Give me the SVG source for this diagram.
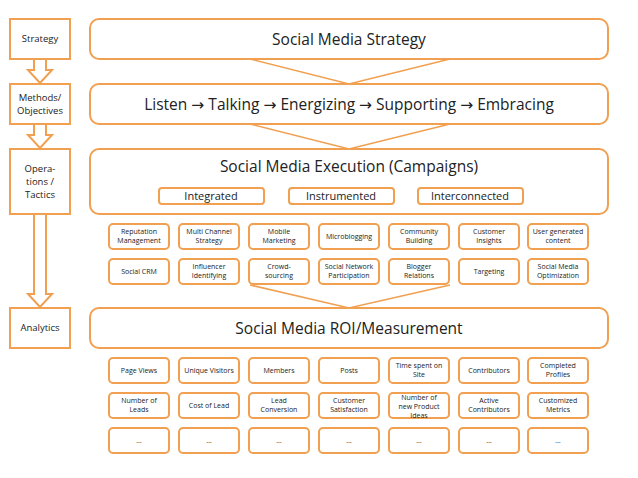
<svg xmlns="http://www.w3.org/2000/svg" width="638" height="478" viewBox="0 0 638 478">
<style>
.b{fill:#fff;stroke:#F0A050;stroke-width:2}
.t{font-family:"Open Sans","Liberation Sans",sans-serif;fill:#222;text-anchor:middle}
.s{font-size:7px}
.m{font-size:9.5px}
.l{font-size:15.5px}
.a{font-family:"DejaVu Sans",sans-serif}
.c{fill:none;stroke:#F0A050;stroke-width:1.6}
</style>
<rect width="638" height="478" fill="#fff"/>
<g id="connectors">
<path class="c" d="M250 59 L349 84 L450 59"/>
<path class="c" d="M250 124 L349 149 L450 124"/>
<path class="c" d="M250 285 L349 308 L450 285"/>
<path class="b" d="M34 59 H46 V70 H52 L40 83 L28 70 H34 Z"/>
<path class="b" d="M34 124 H46 V135 H52 L40 148 L28 135 H34 Z"/>
<path class="b" d="M34 214 H46 V294 H52 L40 307 L28 294 H34 Z"/>
</g>
<g id="strategy-label"><rect class="b" x="10" y="19" width="60" height="40"/><text class="t m" x="40" y="42">Strategy</text></g>
<g id="methods-label"><rect class="b" x="10" y="84" width="60" height="40"/><text class="t m" x="40" y="101">Methods/</text><text class="t m" x="40" y="114">Objectives</text></g>
<g id="ops-label"><rect class="b" x="10" y="149" width="60" height="65"/><text class="t m" x="40" y="172">Opera-</text><text class="t m" x="40" y="185">tions /</text><text class="t m" x="40" y="198">Tactics</text></g>
<g id="analytics-label"><rect class="b" x="10" y="308" width="60" height="40"/><text class="t m" x="40" y="331">Analytics</text></g>
<g id="strategy"><rect class="b" x="90" y="19" width="518" height="40" rx="9"/><text class="t l" x="349" y="45">Social Media Strategy</text></g>
<g id="methods"><rect class="b" x="90" y="84" width="518" height="40" rx="9"/><text class="t l" x="349" y="110">Listen <tspan class="a">→</tspan> Talking <tspan class="a">→</tspan> Energizing <tspan class="a">→</tspan> Supporting <tspan class="a">→</tspan> Embracing</text></g>
<g id="execution"><rect class="b" x="90" y="149" width="518" height="65" rx="9"/><text class="t l" x="349" y="172">Social Media Execution (Campaigns)</text>
<rect class="b" x="159" y="188" width="105" height="16" rx="3"/><text class="t" font-size="11" x="211" y="200">Integrated</text>
<rect class="b" x="289" y="188" width="105" height="16" rx="3"/><text class="t" font-size="11" x="341" y="200">Instrumented</text>
<rect class="b" x="418" y="188" width="105" height="16" rx="3"/><text class="t" font-size="11" x="470" y="200">Interconnected</text></g>
<g id="roi"><rect class="b" x="90" y="308" width="518" height="40" rx="9"/><text class="t l" x="349" y="334">Social Media ROI/Measurement</text></g>
<g id="tactics" class="t s">
<g id="t1"><rect class="b" x="109" y="224" width="60" height="25" rx="4"/><text x="139" y="234">Reputation</text><text x="139" y="243">Management</text></g>
<g id="t2"><rect class="b" x="179" y="224" width="60" height="25" rx="4"/><text x="209" y="234">Multi Channel</text><text x="209" y="243">Strategy</text></g>
<g id="t3"><rect class="b" x="249" y="224" width="60" height="25" rx="4"/><text x="279" y="234">Mobile</text><text x="279" y="243">Marketing</text></g>
<g id="t4"><rect class="b" x="319" y="224" width="60" height="25" rx="4"/><text x="349" y="239">Microblogging</text></g>
<g id="t5"><rect class="b" x="389" y="224" width="60" height="25" rx="4"/><text x="419" y="234">Community</text><text x="419" y="243">Building</text></g>
<g id="t6"><rect class="b" x="459" y="224" width="60" height="25" rx="4"/><text x="489" y="234">Customer</text><text x="489" y="243">Insights</text></g>
<g id="t7"><rect class="b" x="528" y="224" width="60" height="25" rx="4"/><text x="558" y="234">User generated</text><text x="558" y="243">content</text></g>
<g id="t8"><rect class="b" x="109" y="259" width="60" height="25" rx="4"/><text x="139" y="274">Social CRM</text></g>
<g id="t9"><rect class="b" x="179" y="259" width="60" height="25" rx="4"/><text x="209" y="269">Influencer</text><text x="209" y="278">Identifying</text></g>
<g id="t10"><rect class="b" x="249" y="259" width="60" height="25" rx="4"/><text x="279" y="269">Crowd-</text><text x="279" y="278">sourcing</text></g>
<g id="t11"><rect class="b" x="319" y="259" width="60" height="25" rx="4"/><text x="349" y="269">Social Network</text><text x="349" y="278">Participation</text></g>
<g id="t12"><rect class="b" x="389" y="259" width="60" height="25" rx="4"/><text x="419" y="269">Blogger</text><text x="419" y="278">Relations</text></g>
<g id="t13"><rect class="b" x="459" y="259" width="60" height="25" rx="4"/><text x="489" y="274">Targeting</text></g>
<g id="t14"><rect class="b" x="528" y="259" width="60" height="25" rx="4"/><text x="558" y="269">Social Media</text><text x="558" y="278">Optimization</text></g>
</g>
<g id="metrics" class="t s">
<g id="m1"><rect class="b" x="109" y="358" width="60" height="25" rx="4"/><text x="139" y="373">Page Views</text></g>
<g id="m2"><rect class="b" x="179" y="358" width="60" height="25" rx="4"/><text x="209" y="373">Unique Visitors</text></g>
<g id="m3"><rect class="b" x="249" y="358" width="60" height="25" rx="4"/><text x="279" y="373">Members</text></g>
<g id="m4"><rect class="b" x="319" y="358" width="60" height="25" rx="4"/><text x="349" y="373">Posts</text></g>
<g id="m5"><rect class="b" x="389" y="358" width="60" height="25" rx="4"/><text x="419" y="368">Time spent on</text><text x="419" y="377">Site</text></g>
<g id="m6"><rect class="b" x="459" y="358" width="60" height="25" rx="4"/><text x="489" y="373">Contributors</text></g>
<g id="m7"><rect class="b" x="528" y="358" width="60" height="25" rx="4"/><text x="558" y="368">Completed</text><text x="558" y="377">Profiles</text></g>
<g id="m8"><rect class="b" x="109" y="393" width="60" height="25" rx="4"/><text x="139" y="403">Number of</text><text x="139" y="412">Leads</text></g>
<g id="m9"><rect class="b" x="179" y="393" width="60" height="25" rx="4"/><text x="209" y="408">Cost of Lead</text></g>
<g id="m10"><rect class="b" x="249" y="393" width="60" height="25" rx="4"/><text x="279" y="403">Lead</text><text x="279" y="412">Conversion</text></g>
<g id="m11"><rect class="b" x="319" y="393" width="60" height="25" rx="4"/><text x="349" y="403">Customer</text><text x="349" y="412">Satisfaction</text></g>
<g id="m12"><rect class="b" x="389" y="393" width="60" height="25" rx="4"/><text x="419" y="400">Number of</text><text x="419" y="409">new Product</text><text x="419" y="418">Ideas</text></g>
<g id="m13"><rect class="b" x="459" y="393" width="60" height="25" rx="4"/><text x="489" y="403">Active</text><text x="489" y="412">Contributors</text></g>
<g id="m14"><rect class="b" x="528" y="393" width="60" height="25" rx="4"/><text x="558" y="403">Customized</text><text x="558" y="412">Metrics</text></g>
<g id="m15"><rect class="b" x="109" y="428" width="60" height="25" rx="4"/><text x="139" y="443">…</text></g>
<g id="m16"><rect class="b" x="179" y="428" width="60" height="25" rx="4"/><text x="209" y="443">…</text></g>
<g id="m17"><rect class="b" x="249" y="428" width="60" height="25" rx="4"/><text x="279" y="443">…</text></g>
<g id="m18"><rect class="b" x="319" y="428" width="60" height="25" rx="4"/><text x="349" y="443">…</text></g>
<g id="m19"><rect class="b" x="389" y="428" width="60" height="25" rx="4"/><text x="419" y="443">…</text></g>
<g id="m20"><rect class="b" x="459" y="428" width="60" height="25" rx="4"/><text x="489" y="443">…</text></g>
<g id="m21"><rect class="b" x="528" y="428" width="60" height="25" rx="4"/><text x="558" y="443">…</text></g>
</g>
</svg>
